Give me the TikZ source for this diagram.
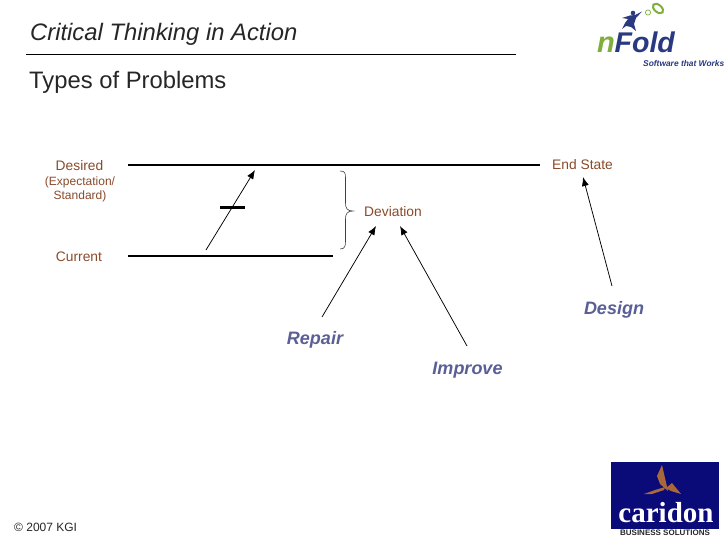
\documentclass[tikz,border=0pt]{standalone}
\usepackage{fontspec}
\setmainfont{Liberation Sans}
\newfontfamily\serifbold{Liberation Serif}
\usetikzlibrary{arrows.meta,decorations.pathreplacing}
\definecolor{labelbrown}{HTML}{8A4B2A}
\definecolor{rolecol}{HTML}{5A5F96}
\definecolor{navylogo}{HTML}{0A0A78}
\definecolor{nblue}{HTML}{2A3A80}
\definecolor{ngreen}{HTML}{7FAE3A}
\definecolor{wing}{HTML}{A8683A}
\tikzset{
 x=1pt,y=-1pt,
 lab/.style={text=labelbrown,font=\fontsize{13.8}{16}\selectfont,inner sep=0pt,align=center,anchor=base},
 sublab/.style={text=labelbrown,font=\fontsize{12}{14}\selectfont,inner sep=0pt,align=center},
 role/.style={text=rolecol,font=\fontsize{18}{20}\selectfont\bfseries\itshape,inner sep=0pt,anchor=base},
 level/.style={line width=2.2pt,black},
 conn/.style={line width=0.75pt,black,-{Latex[length=9pt,width=7pt]}},
}
\begin{document}
\begin{tikzpicture}
\useasboundingbox (0,0) rectangle (728,546);
\fill[white] (0,0) rectangle (728,546);
% header
\node[anchor=base west,inner sep=0pt,font=\fontsize{23.8}{26}\selectfont\itshape,text=black!85] (title) at (30,40) {Critical Thinking in Action};
\coordinate (ruleL) at (26,54); \coordinate (ruleR) at (516,54);
\draw[line width=0.7pt] (ruleL) -- (ruleR);
\node[anchor=base west,inner sep=0pt,font=\fontsize{23.8}{26}\selectfont,text=black!85] (types) at (29,88) {Types of Problems};
% labels
\node[lab] (desired) at (79.5,170) {Desired};
\node[sublab] (expect) at (80,189.5) {(Expectation/\\Standard)};
\node[lab] (current) at (79,261) {Current};
\node[lab] (endstate) at (582.5,169) {End State};
\node[lab] (deviation) at (393,216.5) {Deviation};
\node[role] (repair) at (315,344) {Repair};
\node[role] (improve) at (467.5,374) {Improve};
\node[role] (design) at (614,314) {Design};
% level lines
\coordinate (d1) at (128,165); \coordinate (d2) at (540,165);
\coordinate (c1) at (128,256); \coordinate (c2) at (333,256);
\draw[level] (d1) -- (d2);
\draw[level] (c1) -- (c2);
% gap arrow
\coordinate (g1) at (206,250); \coordinate (g2) at (255,170);
\draw[conn] (g1) -- (g2);
\coordinate (m1) at (220,207); \coordinate (m2) at (245,207);
\draw[line width=3pt] (m1) -- (m2);
% brace
\draw[line width=0.6pt,black!75] (340,171) .. controls (345,171) and (345.5,173) .. (345.5,178)
  -- (345.5,203) .. controls (345.5,208) and (347,211) .. (353,211)
  .. controls (347,211) and (345.5,214) .. (345.5,219) -- (345.5,241)
  .. controls (345.5,246) and (345,249) .. (340,249);
% role arrows
\coordinate (r1) at (322,317); \coordinate (r2) at (376,226);
\coordinate (i1) at (467,346); \coordinate (i2) at (400,226);
\coordinate (e1) at (612,286); \coordinate (e2) at (583,177);
\draw[conn] (r1) -- (r2);
\draw[conn] (i1) -- (i2);
\draw[conn] (e1) -- (e2);
% footer
\node[anchor=base west,inner sep=0pt,font=\fontsize{12}{14}\selectfont,text=black!85] (copy) at (14,531) {\textcopyright\ 2007 KGI};
% nFold logo
\node[anchor=base west,inner sep=0pt,font=\fontsize{29}{30}\selectfont\bfseries\itshape,text=ngreen] (nn) at (597,52.5) {n};
\node[anchor=base west,inner sep=0pt,font=\fontsize{28.5}{30}\selectfont\bfseries\itshape,text=nblue] (fold) at (614.5,52.5) {Fold};
\node[anchor=base west,inner sep=0pt,font=\fontsize{8.4}{9}\selectfont\bfseries\itshape,text=nblue] (soft) at (643,66) {Software that Works};
\fill[nblue] (633,13) circle (2.3);
\fill[nblue] (622,18) -- (630,15.5) -- (635,15) -- (642,11.5) -- (636,18) -- (634,24) -- (636,31) -- (631,27) -- (626,26) -- (622,29) -- (625,23) -- (628,19) -- cycle;
\draw[ngreen,line width=2pt,rotate around={-40:(658,8.5)}] (658,8.5) ellipse (6 and 3.6);
\draw[ngreen,line width=0.7pt] (648,12.5) circle (2.6);
% caridon logo
\fill[navylogo] (611,462) rectangle (719,529);
\fill[wing] (662,465) -- (665,478) -- (668,491) -- (660,484) -- (657,476) -- cycle;
\fill[wing] (666,488) -- (672,483) -- (681,494) -- (671,491) -- cycle;
\fill[wing] (665,487) -- (655,490) -- (644,494) -- (652,494) -- (664,490) -- cycle;
\node[inner sep=0pt,font=\fontsize{29}{30}\selectfont\bfseries,text=white,anchor=base] (car) at (666,522) {\serifbold\bfseries caridon};
\node[inner sep=0pt,font=\fontsize{8}{9}\selectfont\bfseries,text=black!85,anchor=base] (biz) at (665,535) {BUSINESS SOLUTIONS};
\end{tikzpicture}
\end{document}
